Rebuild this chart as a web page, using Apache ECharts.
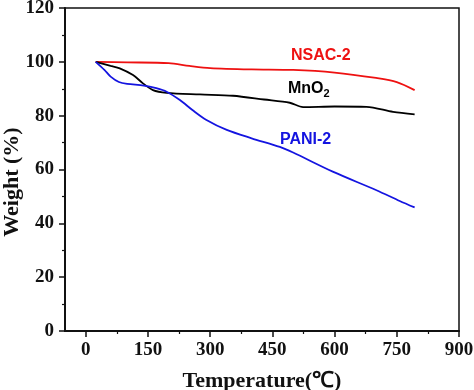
<!DOCTYPE html>
<html>
<head>
<meta charset="utf-8">
<script src="https://cdn.jsdelivr.net/npm/echarts@6/dist/echarts.min.js"></script>
<style>
  html, body { margin: 0; padding: 0; background: #fff; }
  #chart { width: 474px; height: 390px; }
</style>
</head>
<body>
<div id="chart"></div>
<script>
const nsacData = [[24, 100], [100, 99.8], [200, 99.5], [250, 98.5], [300, 97.7], [400, 97.2], [500, 97], [600, 96], [700, 94], [750, 92.5], [793, 89.5]];
const mnoData = [[24, 100], [60, 98.5], [82, 97.6], [114, 95.1], [138, 92], [162, 89.5], [195, 88.5], [275, 87.9], [355, 87.4], [430, 86], [492, 84.8], [524, 83.2], [600, 83.4], [677, 83.3], [741, 81.4], [793, 80.5]];
const paniData = [[24, 100], [45, 97], [60, 94.5], [80, 92.5], [100, 91.8], [140, 91.2], [170, 90.2], [195, 88.9], [227, 85.8], [258, 82], [290, 78.5], [340, 74.7], [400, 71.6], [468, 68.4], [500, 66.3], [597, 59.1], [701, 52.3], [757, 48.3], [793, 45.9]];
const xTicks = [0, 150, 300, 450, 600, 750, 900];
const xMinorTicks = [75, 225, 375, 525, 675, 825];

const chart = echarts.init(document.getElementById('chart'));

const serif = 'Liberation Serif';
const tickFont = { fontFamily: serif, fontWeight: 'bold', fontSize: 19, color: '#111' };

const option = {
    animation: false,
    grid: {
        left: 65, right: 15, top: 8, bottom: 59,
        outerBoundsMode: 'none',
        show: true, borderColor: '#111', borderWidth: 1.5
    },
    xAxis: [
        {
            type: 'value', min: -50, max: 900,
            name: 'Temperature(℃)', nameLocation: 'middle', nameGap: 39,
            nameTextStyle: { fontFamily: serif, fontWeight: 'bold', fontSize: 22, color: '#111' },
            axisLine: { onZero: false, lineStyle: { color: '#111', width: 2 } },
            axisTick: { customValues: xTicks, length: 6, lineStyle: { width: 1.5 } },
            axisLabel: Object.assign({ customValues: xTicks, margin: 10 }, tickFont),
            splitLine: { show: false }
        },
        {
            type: 'value', min: -50, max: 900, position: 'bottom',
            axisLine: { show: false, onZero: false },
            axisTick: { customValues: xMinorTicks, length: 3, lineStyle: { width: 1.2, color: '#111' } },
            axisLabel: { show: false },
            splitLine: { show: false }
        }
    ],
    yAxis: {
        type: 'value', min: 0, max: 120, interval: 20,
        axisLine: { show: true, onZero: false, lineStyle: { color: '#111', width: 2 } },
        axisTick: { show: true, length: 6, lineStyle: { width: 1.5 } },
        minorTick: { show: true, splitNumber: 2, length: 3, lineStyle: { color: '#111', width: 1.2 } },
        axisLabel: Object.assign({ margin: 11 }, tickFont),
        splitLine: { show: false }
    },
    series: [
        { name: 'NSAC-2', type: 'line', data: nsacData, smooth: 0.3, symbol: 'none', lineStyle: { color: '#ee1111', width: 1.8 } },
        { name: 'MnO2', type: 'line', data: mnoData, smooth: 0.3, symbol: 'none', lineStyle: { color: '#000', width: 1.8 } },
        { name: 'PANI-2', type: 'line', data: paniData, smooth: 0.3, symbol: 'none', lineStyle: { color: '#1414e0', width: 1.8 } }
    ],
    graphic: [
        {
            type: 'text', x: 12, y: 182, rotation: Math.PI / 2,
            style: { text: 'Weight (%)', fill: '#111', font: 'bold 22px "Liberation Serif"', align: 'center', verticalAlign: 'middle' }
        },
        { type: 'text', left: 291, top: 48, style: { text: 'NSAC-2', fill: '#ee1111', font: 'bold 16px "Liberation Sans"' } },
        {
            type: 'text', left: 288, top: 81,
            style: {
                text: '{b|MnO}{s|2}', fill: '#000',
                rich: {
                    b: { font: 'bold 16px "Liberation Sans"', fill: '#000' },
                    s: { font: 'bold 11px "Liberation Sans"', fill: '#000', padding: [10, 0, 0, 0] }
                }
            }
        },
        { type: 'text', left: 280, top: 132, style: { text: 'PANI-2', fill: '#1414e0', font: 'bold 16px "Liberation Sans"' } }
    ]
};

chart.setOption(option);

window.addEventListener('resize', function() {
    chart.resize();
});
</script>
</body>
</html>
